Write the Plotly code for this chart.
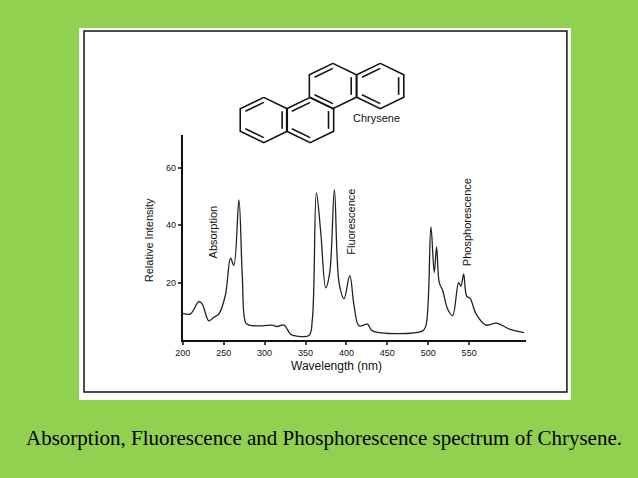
import math
import plotly.graph_objects as go

# spectrum
wavelength = [200, 209.4, 219.6, 223.7, 231.8, 238, 244, 252, 258.4, 262.4, 268.6, 272.7, 276.7, 280.8,
              297, 309, 315.5, 323.7, 331.8, 338, 354.3, 358.4, 363.3, 368.6, 374.7, 379.6, 385.3, 391,
              397.1, 404.1, 409.4, 415.5, 425.7, 431.8, 493, 497.1, 503.3, 507.3, 510.2, 513.5, 517.6,
              523.7, 529.8, 537.1, 540, 543.3, 547, 551.4, 558.4, 570.6, 583.7, 599.2, 617]
intensity = [9.3, 9.1, 13.4, 12.6, 6.7, 7.9, 9, 15.5, 28.5, 26, 48.8, 22.6, 6.1, 5.2,
             4.9, 5.2, 4.7, 5.2, 2, 1.4, 1.6, 7.3, 51.2, 37.6, 18.2, 23.5, 52.4, 20,
             14.4, 22.4, 11.8, 4.9, 5.5, 3.2, 3.2, 4.9, 39.4, 23.5, 32.4, 20, 17.3,
             10.8, 8.5, 20, 18.8, 22.9, 15.3, 14.4, 9.1, 5.2, 5.9, 3.8, 2.6]
x_ticks = [200, 250, 300, 350, 400, 450, 500, 550]
y_ticks = [20, 40, 60]

W, H = 638, 478
fig = go.Figure()
fig.add_trace(go.Scatter(x=wavelength, y=intensity, mode="lines",
                         line=dict(color="#222", width=1.3), line_shape="spline",
                         showlegend=False, hoverinfo="skip"))

# chrysene drawing on a pixel overlay axis
sx, sy = 27.5, 22.6
centers = [(259, 120), (306, 120), (329, 86), (377, 86)]
mx, my = [], []
for cx, cy in centers:
    pts = [(cx + sx * math.cos(math.radians(90 + 60 * k)),
            cy - sy * math.sin(math.radians(90 + 60 * k))) for k in range(7)]
    for px, py in pts:
        mx.append(px); my.append(py)
    mx.append(None); my.append(None)
    for k in (0, 2, 4):
        a, b = pts[k], pts[k + 1]
        for p in (a, b):
            mx.append(cx + (p[0] - cx) * 0.78); my.append(cy + (p[1] - cy) * 0.78)
        mx.append(None); my.append(None)
fig.add_trace(go.Scatter(x=mx, y=my, mode="lines", xaxis="x2", yaxis="y2",
                         line=dict(color="#111", width=1.6), showlegend=False, hoverinfo="skip"))

fig.add_shape(type="rect", xref="paper", yref="paper", x0=72 / W, x1=570 / W,
              y0=1 - 400 / H, y1=1 - 28 / H,
              fillcolor="white", line=dict(width=0), layer="below")
fig.add_shape(type="rect", xref="paper", yref="paper", x0=77 / W, x1=566 / W,
              y0=1 - 392 / H, y1=1 - 31 / H,
              line=dict(color="#111", width=1.5), layer="below")

def txt(x, y, t, size=11, angle=0, family="Liberation Sans, Arial", color="#111"):
    fig.add_annotation(x=x / W, y=1 - y / H, xref="paper", yref="paper", text=t, showarrow=False,
                       xanchor="center", yanchor="middle",
                       textangle=angle, font=dict(size=size, family=family, color=color))

txt(373, 118, "Chrysene", 11)
txt(208, 232, "Absorption", 11, -90)
txt(347, 222, "Fluorescence", 11, -90)
txt(465, 222, "Phosphorescence", 11, -90)
txt(143, 240, "Relative Intensity", 11, -90)
txt(333, 366, "Wavelength (nm)", 12)
txt(320, 438, "Absorption, Fluorescence and Phosphorescence spectrum of Chrysene.", 21,
    family="Liberation Serif, Times New Roman", color="black")

fig.update_layout(
    width=W, height=H, margin=dict(l=0, r=0, t=0, b=0),
    paper_bgcolor="#92D050", plot_bgcolor="rgba(0,0,0,0)",
    xaxis=dict(domain=[177 / W, 525 / W], range=[200, 620], tickvals=x_ticks, showgrid=False,
               zeroline=False, showline=True, linecolor="#111", linewidth=2, ticks="outside",
               ticklen=3, tickwidth=1.5, tickfont=dict(size=9, family="Liberation Sans, Arial", color="#111"),
               tickprefix="<b>", ticksuffix="</b>"),
    yaxis=dict(domain=[1 - 340 / H, 1 - 135 / H], range=[0, 71.4], tickvals=y_ticks, showgrid=False,
               zeroline=False, showline=True, linecolor="#111", linewidth=2, ticks="outside",
               ticklen=3, tickwidth=1.5, tickfont=dict(size=9, family="Liberation Sans, Arial", color="#111"),
               tickprefix="<b>", ticksuffix="</b>"),
    xaxis2=dict(domain=[0, 1], range=[0, W], visible=False, anchor="y2"),
    yaxis2=dict(domain=[0, 1], range=[H, 0], visible=False, anchor="x2"),
)
fig.write_html("out.html", config={"displayModeBar": False},
               post_script="document.body.style.margin='0';document.body.style.overflow='hidden';")
